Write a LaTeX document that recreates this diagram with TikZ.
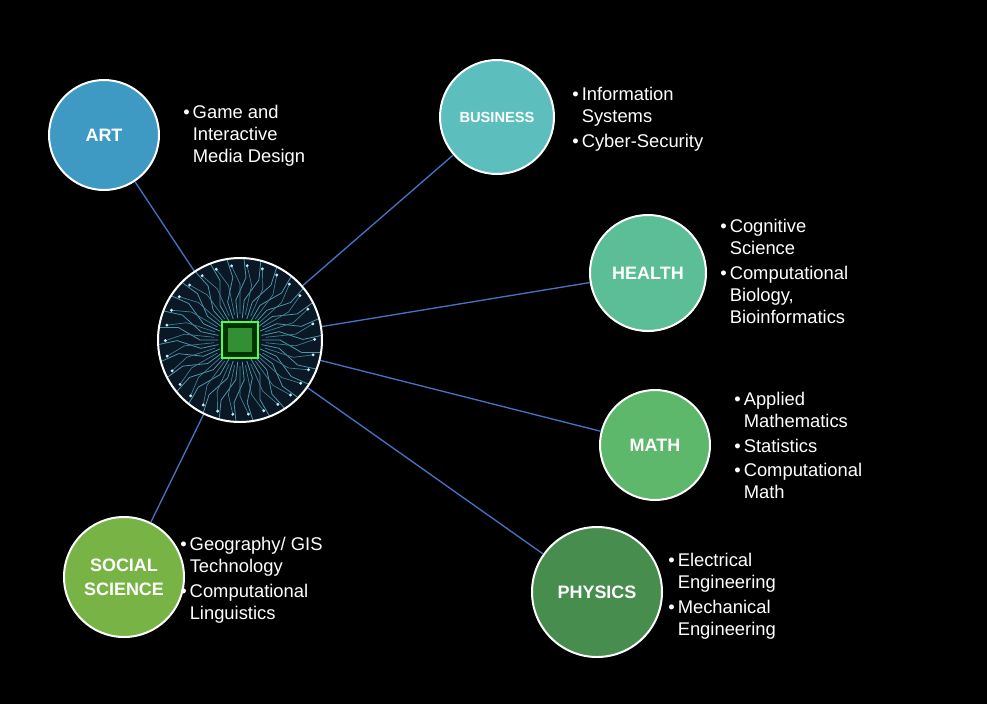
\documentclass[tikz,border=0pt]{standalone}
\usepackage{fontspec}
\setmainfont{Liberation Sans}
\usepackage{array}
\definecolor{cart}{HTML}{3E9AC3}
\definecolor{cbus}{HTML}{5CBFBD}
\definecolor{chea}{HTML}{5BBE97}
\definecolor{cmat}{HTML}{5DB86B}
\definecolor{cphy}{HTML}{478D4E}
\definecolor{csoc}{HTML}{78B445}
\definecolor{cline}{HTML}{4472C4}
\definecolor{chip}{HTML}{6FD3F0}
\definecolor{cdark}{HTML}{0A1826}
\begin{document}
\begin{tikzpicture}[x=0.0264cm,y=-0.0264cm,
  disc/.style={circle,draw=white,line width=1.5pt,text=white,font=\bfseries\fontsize{13.5}{15}\selectfont,align=center,inner sep=0pt},
  conn/.style={cline,line width=1pt},
  info/.style={anchor=north west,text=white,inner sep=0pt,font=\fontsize{13.8}{16.5}\selectfont}]
\fill[black] (0,0) rectangle (987,704);
\useasboundingbox (0,0) rectangle (987,704);
\node[disc,fill=cart,minimum size=110*0.0264cm] (art) at (104,135) {ART};
\node[disc,fill=cbus,minimum size=114*0.0264cm,font=\bfseries\fontsize{11}{12}\selectfont] (bus) at (497,117) {BUSINESS};
\node[disc,fill=chea,minimum size=116*0.0264cm] (hea) at (648,273) {HEALTH};
\node[disc,fill=cmat,minimum size=110*0.0264cm] (mat) at (655,445) {MATH};
\node[disc,fill=cphy,minimum size=130*0.0264cm] (phy) at (597,592) {PHYSICS};
\node[disc,fill=csoc,minimum size=120*0.0264cm] (soc) at (124,577) {SOCIAL\\[3pt]SCIENCE};
\node[circle,minimum size=164*0.0264cm,inner sep=0pt] (cen) at (240,340) {};
\foreach \t in {art,bus,hea,mat,phy,soc} \draw[conn] (cen) -- (\t);
% center circuit image
\begin{scope}
\clip (240,340) circle (82);
\fill[cdark] (158,258) rectangle (322,422);
\foreach \a in {0,12,...,359}{
  \draw[chip!70!black,line width=0.6pt] (240,340) ++(\a:22) -- ++(\a:18) -- ++(\a+30:25) -- ++(\a:40);
  \fill[chip] (240,340) ++(\a:22) ++(\a:18) ++(\a+30:25) ++(\a:40) circle (2);
}
\foreach \a in {6,18,...,359}{
  \draw[chip!60!black,line width=0.5pt] (240,340) ++(\a:26) -- ++(\a:30) -- ++(\a-25:20);
  \fill[white!60!chip] (240,340) ++(\a:26) ++(\a:30) ++(\a-25:20) circle (1.6);
}
\fill[black!80!green] (222,322) rectangle (258,358);
\fill[green!45!black!80] (228,328) rectangle (252,352);
\draw[green!70!white,line width=0.8pt] (222,322) rectangle (258,358);
\end{scope}
\draw[white,line width=1.5pt] (240,340) circle (82);
% texts
\node[info] (tart) at (183,103) {\begin{tabular}{@{}l@{\,}l@{}}•&Game and\\&Interactive\\&Media Design\end{tabular}};
\node[info] (tbus) at (572,85) {\begin{tabular}{@{}l@{\,}l@{}}•&Information\\&Systems\\[2pt]•&Cyber-Security\end{tabular}};
\node[info] (thea) at (720,217) {\begin{tabular}{@{}l@{\,}l@{}}•&Cognitive\\&Science\\[2pt]•&Computational\\&Biology,\\&Bioinformatics\end{tabular}};
\node[info] (tmat) at (734,390) {\begin{tabular}{@{}l@{\,}l@{}}•&Applied\\&Mathematics\\[2pt]•&Statistics\\[2pt]•&Computational\\&Math\end{tabular}};
\node[info] (tphy) at (668,551) {\begin{tabular}{@{}l@{\,}l@{}}•&Electrical\\&Engineering\\[2pt]•&Mechanical\\&Engineering\end{tabular}};
\node[info] (tsoc) at (180,535) {\begin{tabular}{@{}l@{\,}l@{}}•&Geography/ GIS\\&Technology\\[2pt]•&Computational\\&Linguistics\end{tabular}};
\end{tikzpicture}
\end{document}
